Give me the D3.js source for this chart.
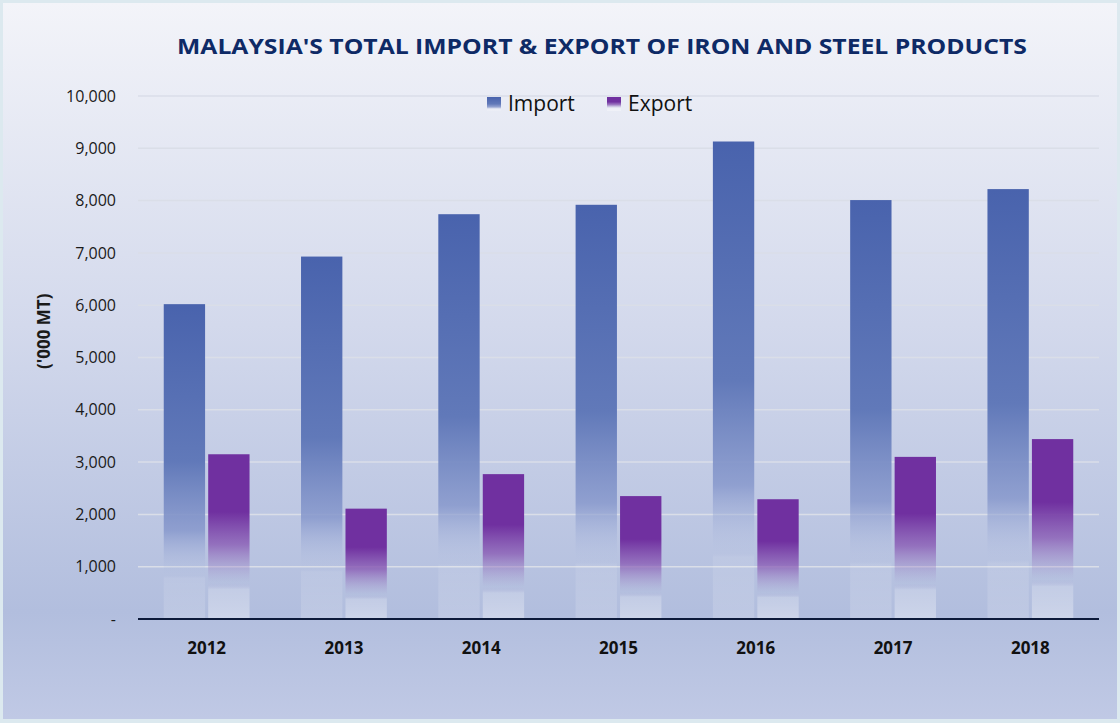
<!DOCTYPE html>
<html>
<head>
<meta charset="utf-8">
<script src="https://cdn.jsdelivr.net/npm/d3@7"></script>
<style>
  html, body { margin: 0; padding: 0; background: #dde9ef; }
  svg { display: block; font-family: "Open Sans", "Liberation Sans", sans-serif; }
</style>
</head>
<body>
<div id="app"></div>
<script>
// data
const years = ["2012", "2013", "2014", "2015", "2016", "2017", "2018"];
const importVals = [6020, 6930, 7740, 7920, 9130, 8010, 8220];
const exportVals = [3150, 2110, 2770, 2350, 2290, 3100, 3440];
const yTicks = [0, 1000, 2000, 3000, 4000, 5000, 6000, 7000, 8000, 9000, 10000];
const seriesNames = ["Import", "Export"];

const w = 1120;
const h = 723;
const margin = { top: 96, right: 21, bottom: 104, left: 138 };

const svg = d3.select("#app").append("svg").attr("width", w).attr("height", h);
const defs = svg.append("defs");

//background gradient
const bg = defs.append("linearGradient").attr("id", "bg").attr("x1", 0).attr("y1", 0).attr("x2", 0).attr("y2", 1);
bg.append("stop").attr("offset", 0).attr("stop-color", "#f3f4f9");
bg.append("stop").attr("offset", 0.45).attr("stop-color", "#d3d9ec");
bg.append("stop").attr("offset", 0.85).attr("stop-color", "#b2bede");
bg.append("stop").attr("offset", 1).attr("stop-color", "#c0c9e5");

//bar gradients, stops as [offset, color, opacity]
const importStops = [
  [0, "#4963ad", 1], [0.5, "#6179b9", 1], [0.72, "#8798cc", 0.85],
  [0.86, "#b0bde0", 0], [0.87, "#ffffff", 0.08], [1, "#ffffff", 0.16]
];
const exportStops = [
  [0, "#7030a0", 1], [0.35, "#7030a0", 1], [0.55, "#8a5cb5", 0.8],
  [0.78, "#a08cc8", 0], [0.82, "#ffffff", 0.2], [1, "#ffffff", 0.35]
];
const makeGrad = (id, stops) => {
  const g = defs.append("linearGradient").attr("id", id).attr("x1", 0).attr("y1", 0).attr("x2", 0).attr("y2", 1);
  stops.forEach((s) => {
    g.append("stop").attr("offset", s[0]).attr("stop-color", s[1]).attr("stop-opacity", s[2]);
  });
};
makeGrad("gImport", importStops);
makeGrad("gExport", exportStops);

svg.append("rect").attr("x", 0).attr("y", 0).attr("width", w).attr("height", h).attr("fill", "#dce9ef");
svg.append("rect").attr("x", 3).attr("y", 3).attr("width", w - 6).attr("height", h - 7).attr("fill", "url(#bg)");

//scales
const x0 = d3.scaleBand().domain(years).range([margin.left, w - margin.right]).paddingInner(0.375).paddingOuter(0.1875);
const x1 = d3.scaleBand().domain(seriesNames).range([0, x0.bandwidth()]).paddingInner(0.07);
const y = d3.scaleLinear().domain([0, 10000]).range([h - margin.bottom, margin.top]);

//gridlines
svg.append("g")
  .selectAll("line")
  .data(yTicks.filter((d) => d > 0))
  .enter()
  .append("line")
  .attr("x1", margin.left)
  .attr("x2", w - margin.right)
  .attr("y1", (d) => y(d))
  .attr("y2", (d) => y(d))
  .attr("stroke", "#dadee8")
  .attr("stroke-width", 1.5);

//y axis labels
const fmt = d3.format(",");
svg.append("g")
  .selectAll("text")
  .data(yTicks)
  .enter()
  .append("text")
  .attr("x", 116)
  .attr("y", (d) => y(d))
  .attr("dy", "0.35em")
  .attr("text-anchor", "end")
  .attr("font-size", 16)
  .attr("fill", "#1a1a1a")
  .text((d) => (d === 0 ? "-" : fmt(d)));

svg.append("text")
  .attr("transform", `translate(44,${y(5500)}) rotate(-90)`)
  .attr("text-anchor", "middle")
  .attr("dy", "0.35em")
  .attr("font-size", 17)
  .attr("font-weight", "bold")
  .attr("fill", "#1a1a1a")
  .text("('000 MT)");

//bars
const groups = svg.append("g")
  .selectAll("g")
  .data(years.map((yr, i) => ({ yr, vals: [importVals[i], exportVals[i]] })))
  .enter()
  .append("g")
  .attr("transform", (d) => `translate(${x0(d.yr)},0)`);

groups.selectAll("rect")
  .data((d) => d.vals.map((v, i) => ({ key: seriesNames[i], v })))
  .enter()
  .append("rect")
  .attr("x", (d) => x1(d.key))
  .attr("width", x1.bandwidth())
  .attr("y", (d) => y(d.v))
  .attr("height", (d) => y(0) - y(d.v))
  .attr("fill", (d) => (d.key === "Import" ? "url(#gImport)" : "url(#gExport)"));

//x axis
svg.append("line")
  .attr("x1", margin.left)
  .attr("x2", w - margin.right)
  .attr("y1", y(0))
  .attr("y2", y(0))
  .attr("stroke", "#0d1a3a")
  .attr("stroke-width", 2);

svg.append("g")
  .selectAll("text")
  .data(years)
  .enter()
  .append("text")
  .attr("x", (d) => x0(d) + x0.bandwidth() / 2)
  .attr("y", 648)
  .attr("dy", "0.35em")
  .attr("text-anchor", "middle")
  .attr("font-size", 17)
  .attr("font-weight", "bold")
  .attr("fill", "#111")
  .text((d) => d);

//title
svg.append("text")
  .attr("x", 602)
  .attr("y", 54)
  .attr("text-anchor", "middle")
  .attr("font-size", 21)
  .attr("font-weight", "bold")
  .attr("fill", "#0e2a66")
  .attr("textLength", 850)
  .attr("lengthAdjust", "spacingAndGlyphs")
  .text("MALAYSIA'S TOTAL IMPORT & EXPORT OF IRON AND STEEL PRODUCTS");

//legend
const legendX = [487, 607];
const legend = svg.append("g")
  .selectAll("g")
  .data(seriesNames)
  .enter()
  .append("g")
  .attr("transform", (d, i) => `translate(${legendX[i]},97)`);

legend.append("rect")
  .attr("width", 14)
  .attr("height", 14)
  .attr("fill", (d) => (d === "Import" ? "url(#gImport)" : "url(#gExport)"));

legend.append("text")
  .attr("x", 21)
  .attr("y", 7)
  .attr("dy", "0.35em")
  .attr("font-size", 21)
  .attr("fill", "#111")
  .text((d) => d);
</script>
</body>
</html>
